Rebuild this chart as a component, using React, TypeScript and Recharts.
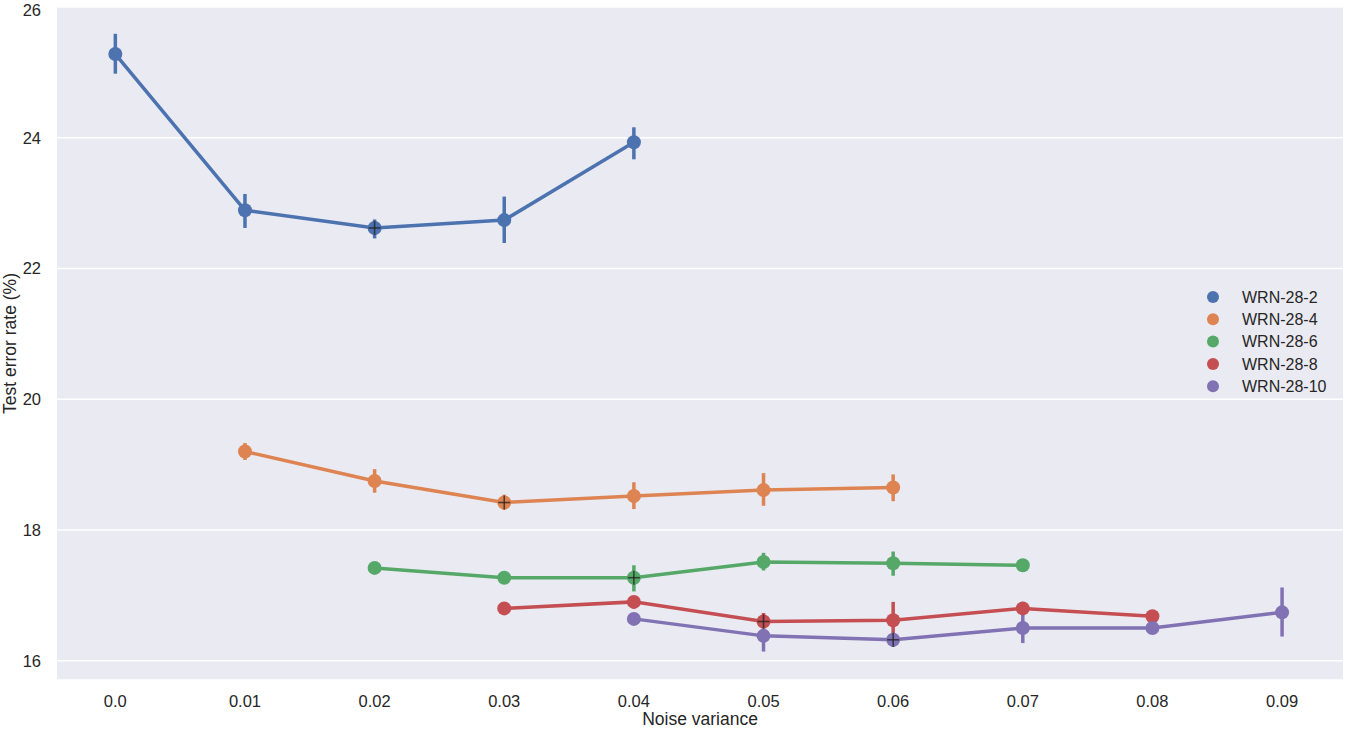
import {
  ComposedChart,
  Line,
  ErrorBar,
  XAxis,
  YAxis,
  CartesianGrid,
  Scatter,
  Label,
} from "recharts";

const xLabels = ["0.0", "0.01", "0.02", "0.03", "0.04", "0.05", "0.06", "0.07", "0.08", "0.09"];
const yTicks = [16, 18, 20, 22, 24, 26];

// means, lower and upper bounds of each interval, null where not run
const wrn2Mean = [25.28, 22.89, 22.62, 22.74, 23.93, null, null, null, null, null];
const wrn2Low = [24.98, 22.62, 22.46, 22.39, 23.67, null, null, null, null, null];
const wrn2High = [25.59, 23.14, 22.75, 23.1, 24.16, null, null, null, null, null];

const wrn4Mean = [null, 19.2, 18.75, 18.42, 18.52, 18.61, 18.65, null, null, null];
const wrn4Low = [null, 19.07, 18.57, 18.31, 18.32, 18.37, 18.44, null, null, null];
const wrn4High = [null, 19.33, 18.93, 18.54, 18.73, 18.87, 18.85, null, null, null];

const wrn6Mean = [null, null, 17.42, 17.27, 17.27, 17.51, 17.49, 17.46, null, null];
const wrn6Low = [null, null, 17.36, 17.22, 17.06, 17.38, 17.3, 17.36, null, null];
const wrn6High = [null, null, 17.48, 17.32, 17.46, 17.65, 17.67, 17.53, null, null];

const wrn8Mean = [null, null, null, 16.8, 16.9, 16.6, 16.62, 16.8, 16.68, null];
const wrn8Low = [null, null, null, 16.72, 16.8, 16.51, 16.37, 16.71, 16.63, null];
const wrn8High = [null, null, null, 16.88, 16.99, 16.73, 16.9, 16.9, 16.74, null];

const wrn10Mean = [null, null, null, null, 16.64, 16.38, 16.32, 16.5, 16.5, 16.74];
const wrn10Low = [null, null, null, null, 16.55, 16.14, 16.21, 16.27, 16.45, 16.37];
const wrn10High = [null, null, null, null, 16.73, 16.51, 16.38, 16.75, 16.55, 17.12];

// points drawn with a dark "+" on top
const crossX = [2, 3, 4, 5, 6];
const crossY = [22.62, 18.42, 17.27, 16.6, 16.32];

const seriesNames = ["WRN-28-2", "WRN-28-4", "WRN-28-6", "WRN-28-8", "WRN-28-10"];
const seriesColors = ["#4C72B0", "#DD8452", "#55A868", "#C44E52", "#8172B3"];

const FONT = "'Liberation Sans', Arial, sans-serif";

function buildRows(mean: (number | null)[], low: (number | null)[], high: (number | null)[]) {
  const rows: { x: number; y: number; err: [number, number] }[] = [];
  mean.forEach((m, i) => {
    if (m == null) return;
    rows.push({ x: i, y: m, err: [m - (low[i] as number), (high[i] as number) - m] });
  });
  return rows;
}

const series = [
  buildRows(wrn2Mean, wrn2Low, wrn2High),
  buildRows(wrn4Mean, wrn4Low, wrn4High),
  buildRows(wrn6Mean, wrn6Low, wrn6High),
  buildRows(wrn8Mean, wrn8Low, wrn8High),
  buildRows(wrn10Mean, wrn10Low, wrn10High),
];

const crosses = crossX.map((x, i) => ({ x, y: crossY[i] }));

function Cross(props: any) {
  const { cx, cy } = props;
  if (cx == null || cy == null) return null;
  return (
    <g stroke="#222" strokeOpacity={0.75} strokeWidth={1.6}>
      <line x1={cx - 6} x2={cx + 6} y1={cy} y2={cy} />
      <line x1={cx} x2={cx} y1={cy - 7} y2={cy + 7} />
    </g>
  );
}

function Legend() {
  return (
    <g>
      {seriesNames.map((name, i) => (
        <g key={name}>
          <circle cx={1213} cy={297 + i * 22.3} r={6} fill={seriesColors[i]} />
          <text
            x={1242}
            y={297 + i * 22.3}
            dy="0.36em"
            fontSize={16}
            fill="#262626"
            fontFamily={FONT}
          >
            {name}
          </text>
        </g>
      ))}
    </g>
  );
}

export default function App() {
  return (
    <div style={{ position: "absolute", left: 0, top: 0, background: "#fff" }}>
      <ComposedChart
        width={1348}
        height={729}
        margin={{ top: 7, right: 5, bottom: 0, left: 0 }}
      >
        <CartesianGrid
          fill="#EAEAF2"
          stroke="#ffffff"
          strokeWidth={1.4}
          vertical={false}
        />
        <XAxis
          type="number"
          dataKey="x"
          domain={[-0.45, 9.47]}
          ticks={xLabels.map((_, i) => i)}
          tickFormatter={(v: number) => xLabels[v]}
          allowDataOverflow
          axisLine={false}
          tickLine={false}
          tickSize={0}
          tickMargin={15}
          height={49}
          tick={{ fontSize: 16.5, fill: "#262626", fontFamily: FONT }}
        >
          <Label
            value="Noise variance"
            position="insideBottom"
            offset={4}
            style={{ fontSize: 17.5, fill: "#262626", fontFamily: FONT }}
          />
        </XAxis>
        <YAxis
          type="number"
          domain={[15.705, 26.0]}
          ticks={yTicks}
          allowDataOverflow
          axisLine={false}
          tickLine={false}
          tickSize={0}
          tickMargin={16}
          width={57}
          tick={{ fontSize: 16.5, fill: "#262626", fontFamily: FONT }}
        >
          <Label
            value="Test error rate (%)"
            angle={-90}
            position="insideLeft"
            offset={10}
            style={{
              fontSize: 17.5,
              fill: "#262626",
              fontFamily: FONT,
              textAnchor: "middle",
            }}
          />
        </YAxis>
        {series.map((rows, i) => (
          <Line
            key={seriesNames[i]}
            data={rows}
            dataKey="y"
            name={seriesNames[i]}
            stroke={seriesColors[i]}
            strokeWidth={3.5}
            dot={{ r: 7, fill: seriesColors[i], stroke: "none" }}
            activeDot={false}
            isAnimationActive={false}
          >
            <ErrorBar
              dataKey="err"
              direction="y"
              width={0}
              stroke={seriesColors[i]}
              strokeWidth={3.5}
            />
          </Line>
        ))}
        <Scatter
          data={crosses}
          dataKey="y"
          shape={<Cross />}
          isAnimationActive={false}
        />
        <Legend />
      </ComposedChart>
    </div>
  );
}
